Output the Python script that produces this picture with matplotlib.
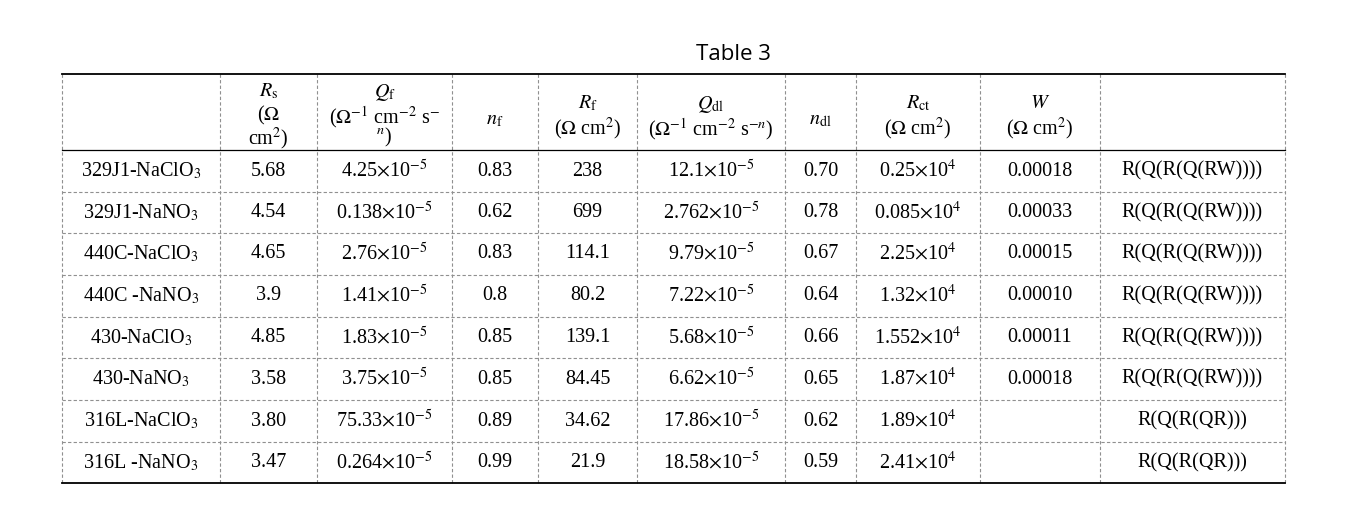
import matplotlib
matplotlib.use("Agg")
import matplotlib.pyplot as plt

plt.rcParams['font.family'] = ['Liberation Serif', 'DejaVu Serif']
plt.rcParams['mathtext.fontset'] = 'stix'

samples = [r'329J1-NaClO$_3$', r'329J1-NaNO$_3$', r'440C-NaClO$_3$', r'440C -NaNO$_3$',
           r'430-NaClO$_3$', r'430-NaNO$_3$', r'316L-NaClO$_3$', r'316L -NaNO$_3$']
Rs = ['5.68', '4.54', '4.65', '3.9', '4.85', '3.58', '3.80', '3.47']
Qf = ['4.25', '0.138', '2.76', '1.41', '1.83', '3.75', '75.33', '0.264']
nf = ['0.83', '0.62', '0.83', '0.8', '0.85', '0.85', '0.89', '0.99']
Rf = ['238', '699', '114.1', '80.2', '139.1', '84.45', '34.62', '21.9']
Qdl = ['12.1', '2.762', '9.79', '7.22', '5.68', '6.62', '17.86', '18.58']
ndl = ['0.70', '0.78', '0.67', '0.64', '0.66', '0.65', '0.62', '0.59']
Rct = ['0.25', '0.085', '2.25', '1.32', '1.552', '1.87', '1.89', '2.41']
W = ['0.00018', '0.00033', '0.00015', '0.00010', '0.00011', '0.00018', '', '']
circuit = ['R(Q(R(Q(RW))))'] * 6 + ['R(Q(R(QR)))'] * 2

headers = [
    [],
    [r'$R_{\mathrm{s}}$', r'($\Omega$', r'cm$^{2}$)'],
    [r'$Q_{\mathrm{f}}$', r'($\Omega^{-1}$ cm$^{-2}$ s$^{-}$', r'$^{n}$)'],
    [r'$n_{\mathrm{f}}$'],
    [r'$R_{\mathrm{f}}$', r'($\Omega$ cm$^{2}$)'],
    [r'$Q_{\mathrm{dl}}$', r'($\Omega^{-1}$ cm$^{-2}$ s$^{-n}$)'],
    [r'$n_{\mathrm{dl}}$'],
    [r'$R_{\mathrm{ct}}$', r'($\Omega$ cm$^{2}$)'],
    [r'$W$', r'($\Omega$ cm$^{2}$)'],
    [],
]

xb = [62, 220, 317, 452, 538, 637, 785, 856, 980, 1100, 1285]
yb = [74, 150, 192, 233, 275, 317, 358, 400, 442, 483]

fig = plt.figure(figsize=(13.5, 5.24), dpi=100)
ax = fig.add_axes([0, 0, 1, 1])
ax.set_xlim(0, 1350)
ax.set_ylim(524, 0)
ax.axis('off')

ax.text(733, 54, 'Table 3', ha='center', va='center', fontsize=16, family=['Open Sans', 'DejaVu Sans'])

for x in xb:
    ax.plot([x, x], [yb[0], yb[-1]], color='#909090', lw=0.8, ls=(0, (3, 2)))
for y in yb[2:-1]:
    ax.plot([xb[0], xb[-1]], [y, y], color='#909090', lw=0.8, ls=(0, (3, 2)))
for y in (yb[0], yb[-1]):
    ax.plot([xb[0], xb[-1]], [y, y], color='black', lw=1.3)
ax.plot([xb[0], xb[-1]], [yb[1], yb[1]], color='black', lw=0.9)

fs = 14.5
for j, lines in enumerate(headers):
    if not lines:
        continue
    cx = (xb[j] + xb[j + 1]) / 2
    n = len(lines)
    top = 82 if n == 3 else (94 if n == 2 else 110)
    for k, s in enumerate(lines):
        ax.text(cx, top + k * 22, s, ha='center', va='top', fontsize=fs)

def sci(m, e):
    return m + r'$\times$10$^{' + e + '}$'

cols = [samples, Rs, [sci(v, '-5') for v in Qf], nf, Rf,
        [sci(v, '-5') for v in Qdl], ndl, [sci(v, '4') for v in Rct], W, circuit]
for j, col in enumerate(cols):
    cx = (xb[j] + xb[j + 1]) / 2
    for i, s in enumerate(col):
        if not s:
            continue
        cy = (yb[i + 1] + yb[i + 2]) / 2
        ax.text(cx, cy, s, ha='center', va='center', fontsize=fs)

fig.savefig('out.png', dpi=100)
